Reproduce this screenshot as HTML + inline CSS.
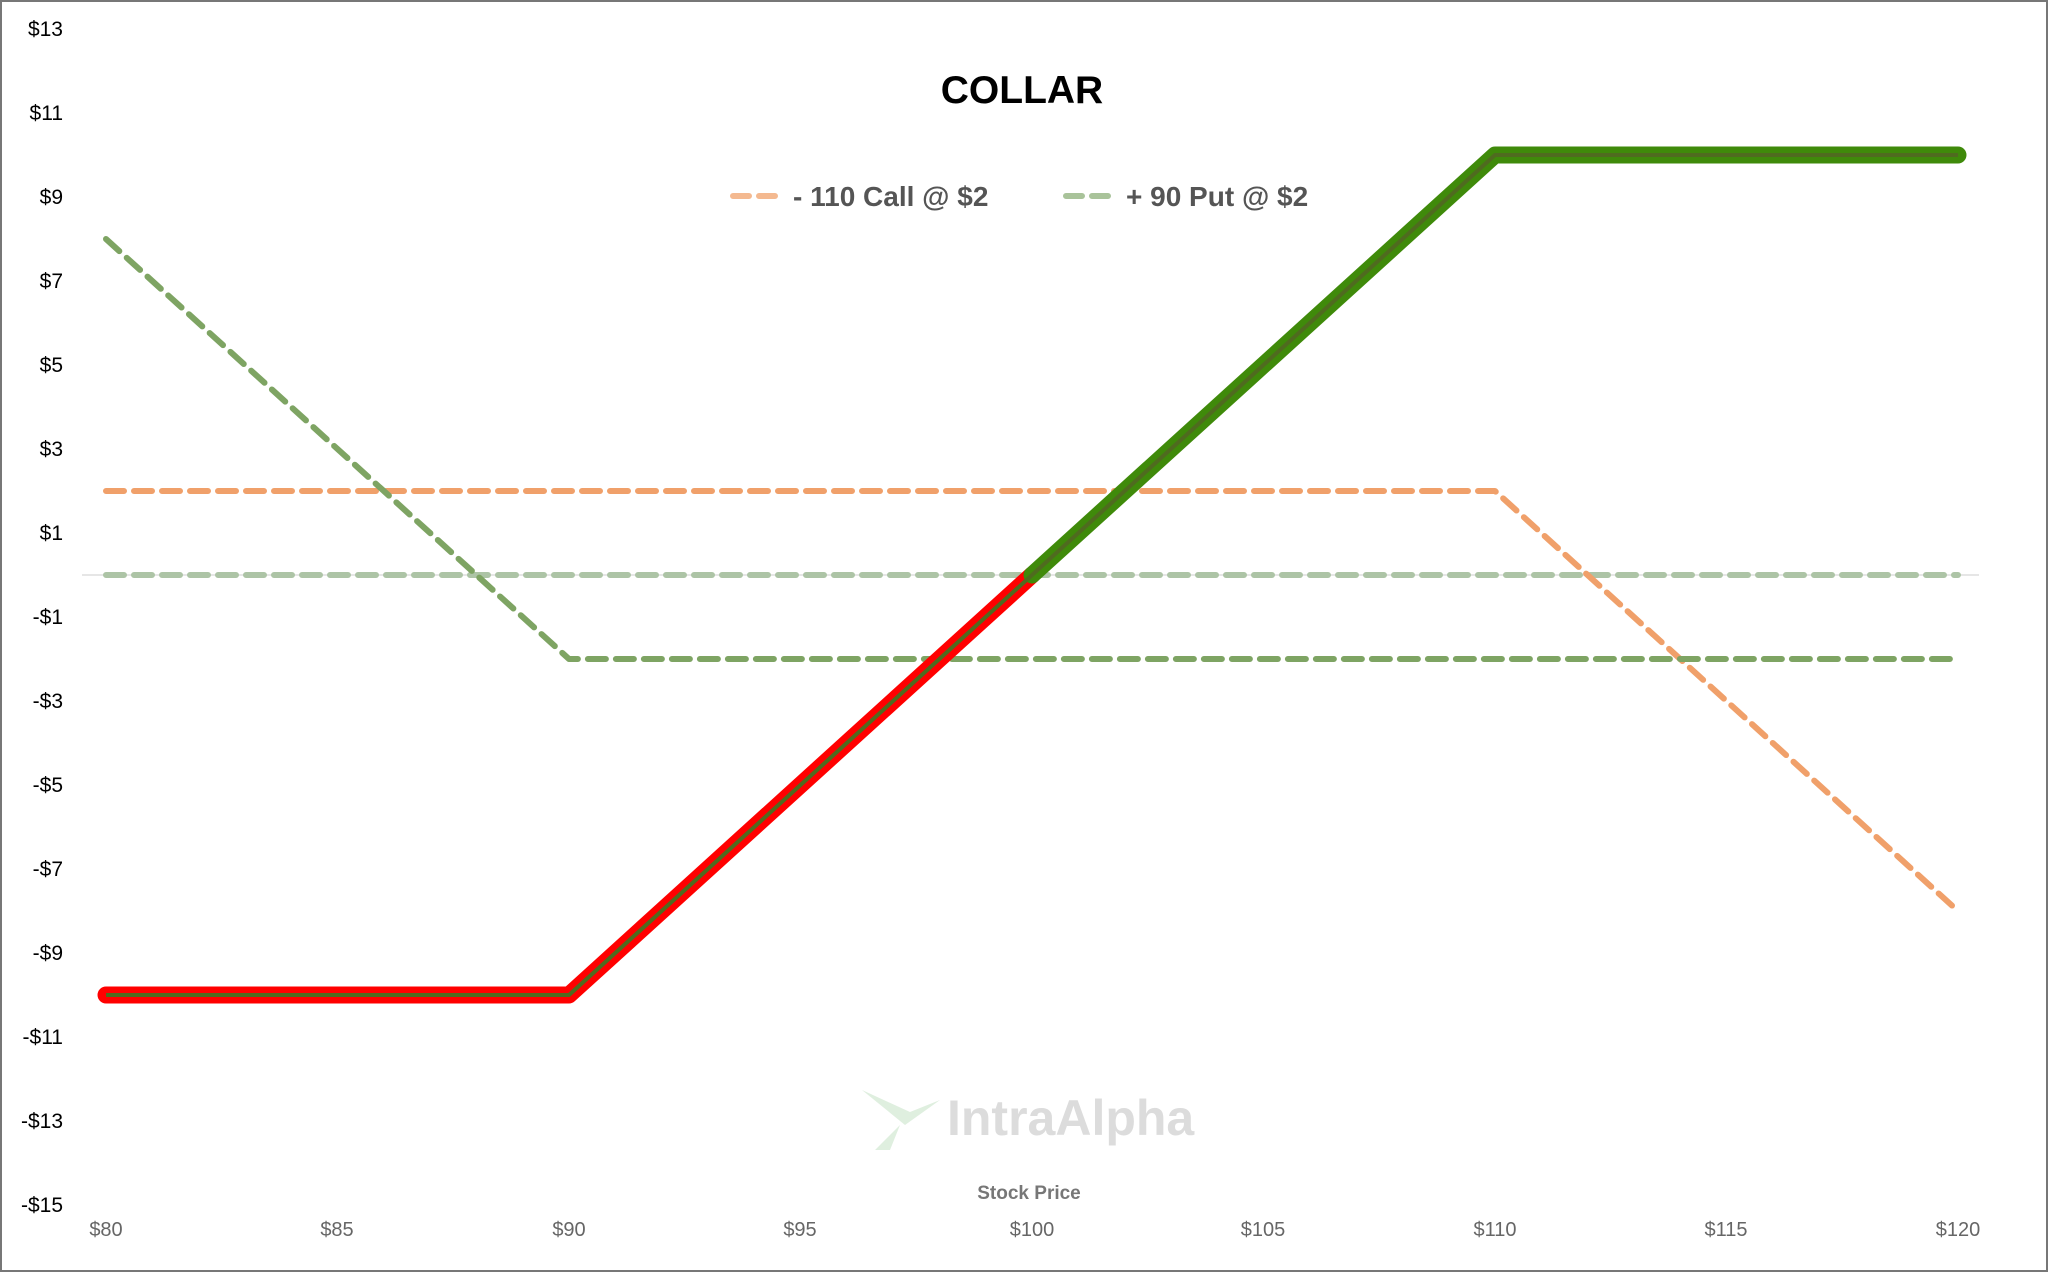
<!DOCTYPE html>
<html><head><meta charset="utf-8"><style>
html,body{margin:0;padding:0;background:#fff;}
svg{display:block;font-family:"Liberation Sans",sans-serif;}
</style></head><body>
<svg width="2048" height="1272" viewBox="0 0 2048 1272" xmlns="http://www.w3.org/2000/svg">
<rect x="1" y="1" width="2046" height="1270" fill="#fff" stroke="#777" stroke-width="2"/>
<text x="1022" y="103" text-anchor="middle" font-size="39" font-weight="bold" fill="#000">COLLAR</text>
<line x1="733" y1="196" x2="781" y2="196" stroke="#f4b990" stroke-width="6" stroke-dasharray="16,10" stroke-linecap="round"/>
<text x="793" y="206" font-size="28" font-weight="bold" fill="#555">- 110 Call @ $2</text>
<line x1="1066" y1="196" x2="1113" y2="196" stroke="#a9c39a" stroke-width="6" stroke-dasharray="16,10" stroke-linecap="round"/>
<text x="1126" y="206" font-size="28" font-weight="bold" fill="#555">+ 90 Put @ $2</text>
<g font-size="21" fill="#000" text-anchor="end">
<text x="63" y="36">$13</text><text x="63" y="120">$11</text><text x="63" y="204">$9</text>
<text x="63" y="288">$7</text><text x="63" y="372">$5</text><text x="63" y="456">$3</text>
<text x="63" y="540">$1</text><text x="63" y="624">-$1</text><text x="63" y="708">-$3</text>
<text x="63" y="792">-$5</text><text x="63" y="876">-$7</text><text x="63" y="960">-$9</text>
<text x="63" y="1044">-$11</text><text x="63" y="1128">-$13</text><text x="63" y="1212">-$15</text>
</g>
<g font-size="20" fill="#666" text-anchor="middle">
<text x="106" y="1236">$80</text><text x="337" y="1236">$85</text><text x="569" y="1236">$90</text>
<text x="800" y="1236">$95</text><text x="1032" y="1236">$100</text><text x="1263" y="1236">$105</text>
<text x="1495" y="1236">$110</text><text x="1726" y="1236">$115</text><text x="1958" y="1236">$120</text>
</g>
<text x="1029" y="1199" text-anchor="middle" font-size="19" font-weight="bold" fill="#777">Stock Price</text>
<g opacity="0.5">
<path d="M862 1090 L905 1125 L940 1100 L910 1112 Z M875 1150 L900 1125 L890 1150 Z" fill="#bfe0c0"/>
</g>
<text x="947" y="1135" font-size="50" font-weight="bold" fill="#dcdcdc">IntraAlpha</text>
<line x1="82" y1="575" x2="1979" y2="575" stroke="#ddd" stroke-width="1.5"/>
<polyline points="106,575 1958,575" fill="none" stroke="#adc4a6" stroke-width="6" stroke-dasharray="18,10" stroke-linecap="round"/>
<polyline points="106,491 1495,491 1958,911" fill="none" stroke="#f0a06a" stroke-width="6" stroke-dasharray="18,10" stroke-linecap="round" stroke-linejoin="round"/>
<polyline points="106,239 569,659 1958,659" fill="none" stroke="#7ea463" stroke-width="6" stroke-dasharray="18,10" stroke-linecap="round" stroke-linejoin="round"/>
<polyline points="106,995 569,995 1032,575" fill="none" stroke="#ff0000" stroke-width="17" stroke-linecap="round" stroke-linejoin="round"/>
<polyline points="1032,575 1495,155 1958,155" fill="none" stroke="#3f8a0a" stroke-width="17" stroke-linecap="round" stroke-linejoin="round"/>
<polyline points="106,995 569,995 1495,155 1958,155" fill="none" stroke="#4f6b1f" stroke-width="4" stroke-linejoin="round"/>
</svg>
</body></html>
